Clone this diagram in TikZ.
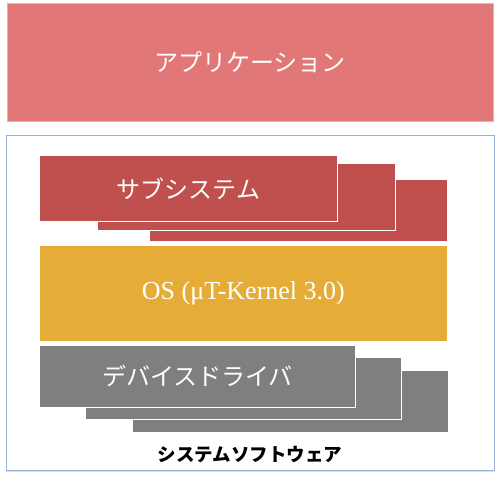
\documentclass[tikz,border=0pt]{standalone}
\usepackage{fontspec}
\usepackage{tikz}
\usetikzlibrary{shadows}
\newfontfamily\jpfont{Noto Sans CJK JP}
\newfontfamily\osfont{Liberation Serif}
\definecolor{appred}{HTML}{E27777}
\definecolor{subred}{HTML}{C0504D}
\definecolor{osyellow}{HTML}{E5AD37}
\definecolor{drvgray}{HTML}{7F7F7F}
\definecolor{frameblue}{HTML}{95B3D7}
\begin{document}
\begin{tikzpicture}[x=1pt,y=-1pt,
    layer/.style={draw=white,line width=0.8pt,anchor=north west,inner sep=0pt,text=white},
    subbox/.style={layer,fill=subred,minimum width=298pt},
    drvbox/.style={layer,fill=drvgray,minimum width=316pt,minimum height=62pt},
    big/.style={font=\jpfont\fontsize{24}{24}\selectfont}]
        \useasboundingbox (0,0) rectangle (500,487);
        \node[fill=appred,draw=appred!60!white,minimum width=486pt,minimum height=118pt,inner sep=0pt,text=white,big] (app) at (250,62) {アプリケーション};
        \node[draw=frameblue,fill=white,line width=1pt,minimum width=488pt,minimum height=335pt,inner sep=0pt,
            drop shadow={opacity=0.25,shadow xshift=0pt,shadow yshift=-2pt}] (sys) at (250,302.5) {};
        % subsystems
        \node[subbox,minimum height=62pt] (sub3) at (149,179) {};
        \node[subbox,minimum height=67pt] (sub2) at (97,163) {};
        \node[subbox,minimum height=66pt,big] (sub1) at (39,155) {サブシステム};
        % os
        \node[layer,fill=osyellow,minimum width=408pt,minimum height=96pt,font=\osfont\fontsize{26}{26}\selectfont] (os) at (39,245) {OS (μT-Kernel 3.0)};
        % device drivers
        \node[drvbox] (drv3) at (132,370) {};
        \node[drvbox] (drv2) at (85,357) {};
        \node[drvbox,big] (drv1) at (39,345) {デバイスドライバ};
        \node[font=\jpfont\bfseries\fontsize{18.5}{18.5}\selectfont] (syslabel) at (250,455) {システムソフトウェア};
    \end{tikzpicture}
\end{document}
